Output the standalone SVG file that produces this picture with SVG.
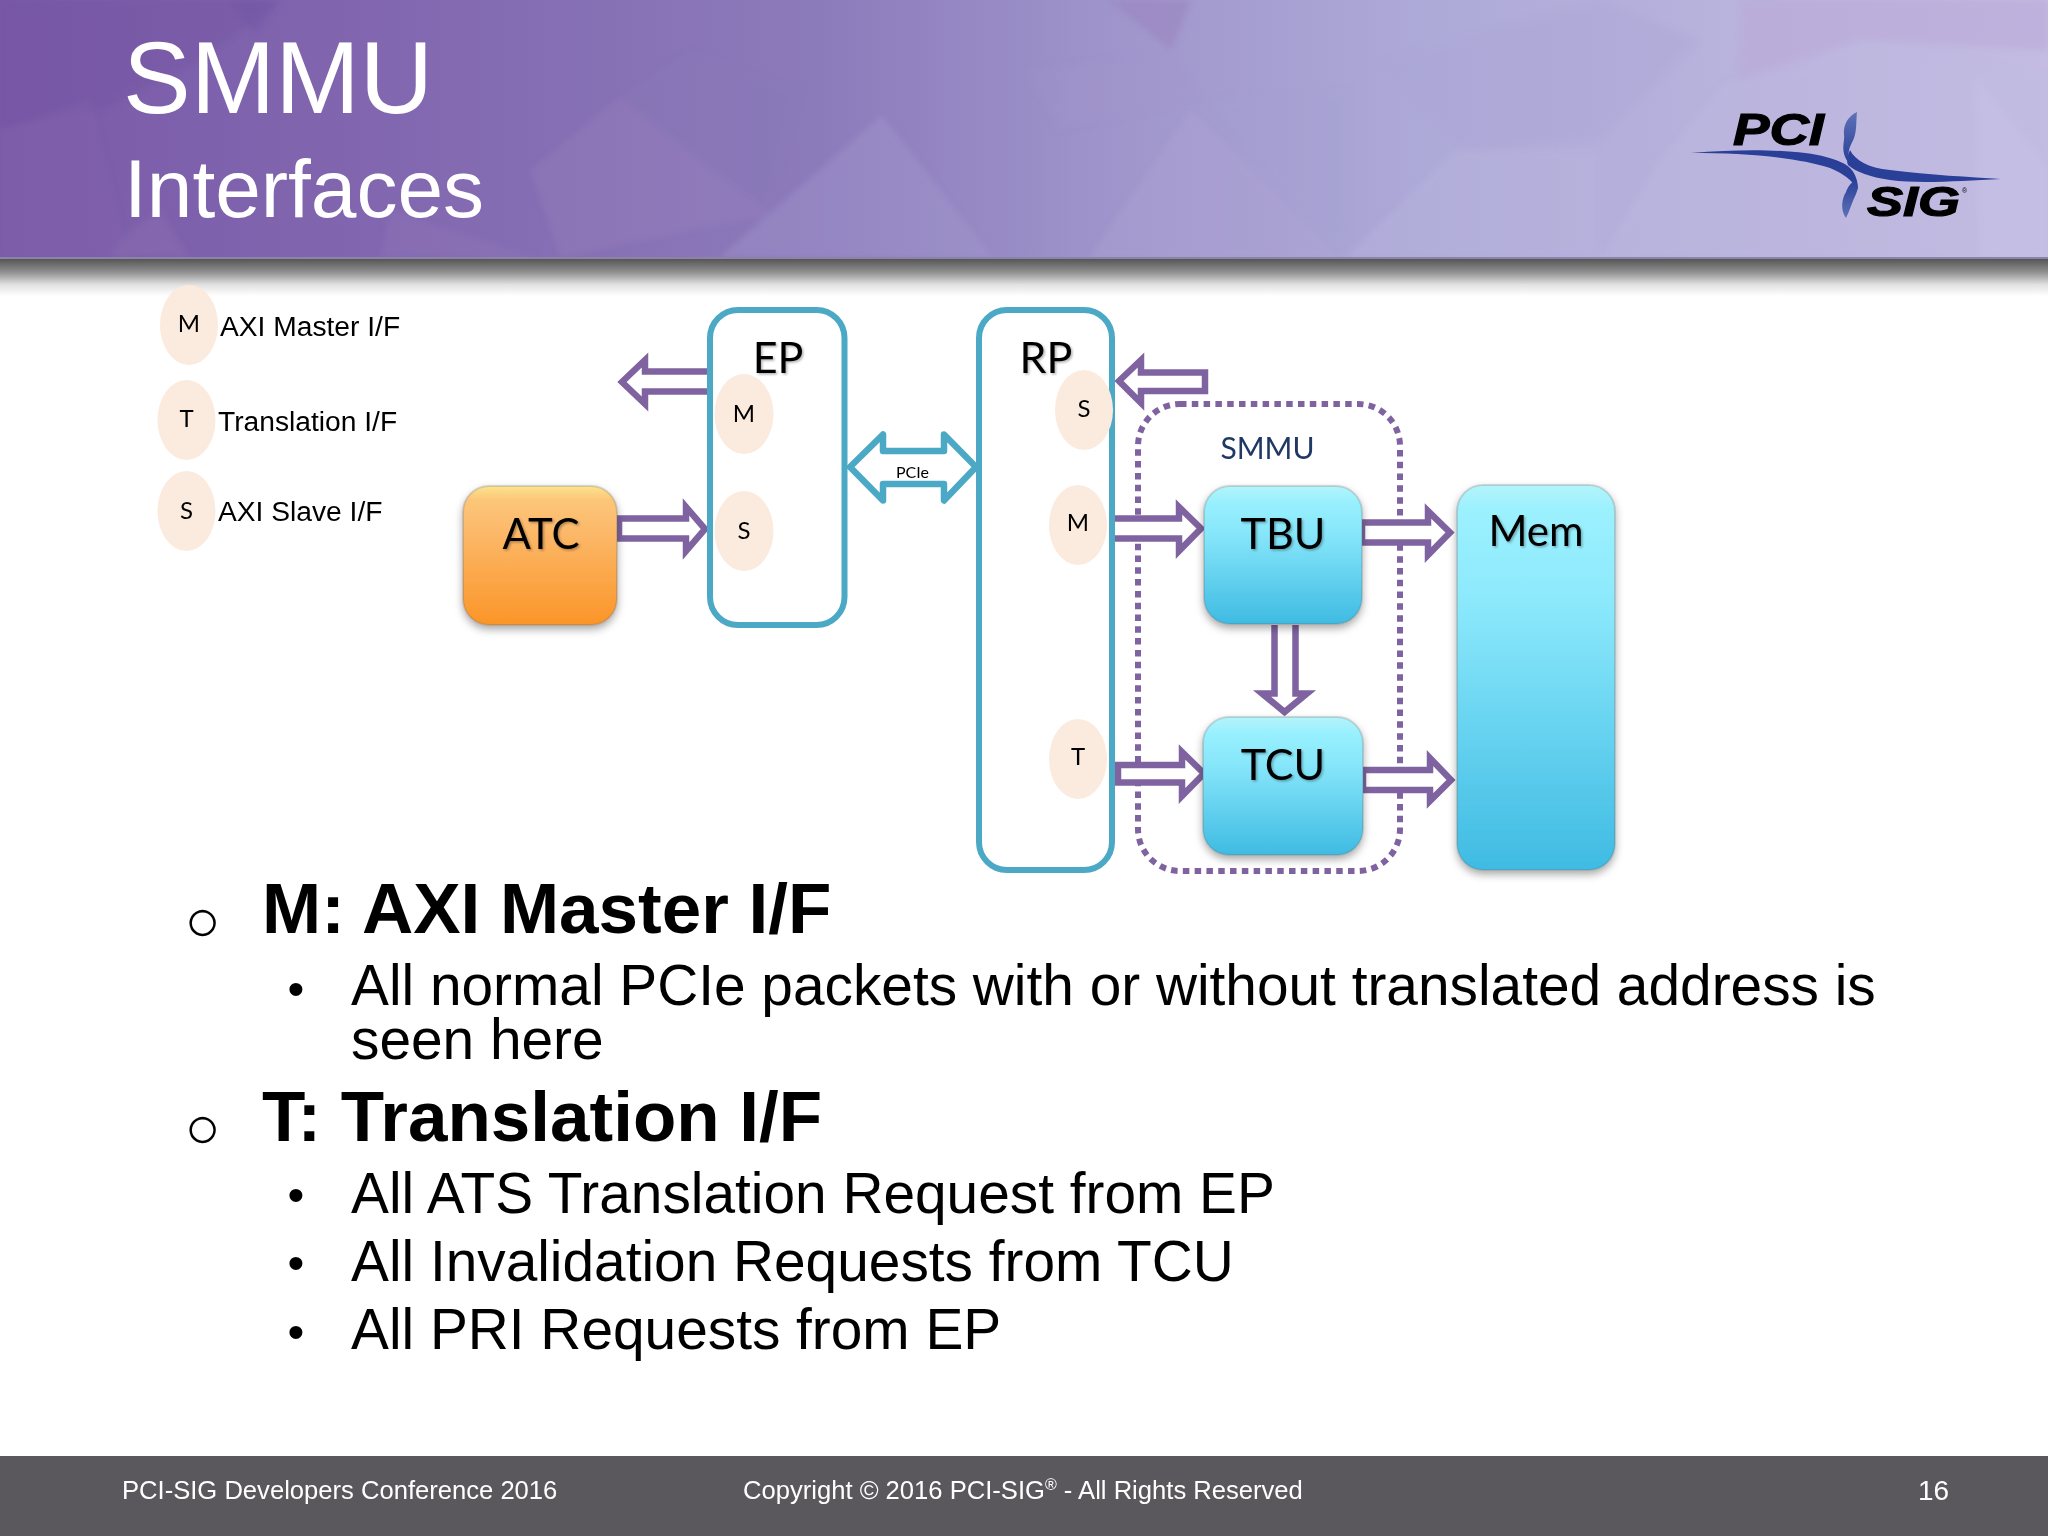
<svg xmlns="http://www.w3.org/2000/svg" width="2048" height="1536" viewBox="0 0 2048 1536">
<defs>
<linearGradient id="bannerG" x1="0" x2="1" y1="0" y2="0"><stop offset="0" stop-color="#7a5aa8"/><stop offset=".2" stop-color="#8268b0"/><stop offset=".4" stop-color="#8c7bbb"/><stop offset=".55" stop-color="#a096cc"/><stop offset=".7" stop-color="#aeaad8"/><stop offset=".88" stop-color="#bbb5de"/><stop offset="1" stop-color="#c4bce2"/></linearGradient>
<linearGradient id="shadeG" x1="0" x2="0" y1="0" y2="1"><stop offset="0" stop-color="#565656"/><stop offset=".35" stop-color="#8f8f8f"/><stop offset=".7" stop-color="#e2e2e2"/><stop offset="1" stop-color="#ffffff"/></linearGradient>
<linearGradient id="orangeG" x1="0" x2="0" y1="0" y2="1"><stop offset="0" stop-color="#fbe48e"/><stop offset=".1" stop-color="#fcc678"/><stop offset=".3" stop-color="#fcba6c"/><stop offset="1" stop-color="#fb9528"/></linearGradient>
<linearGradient id="blueG" x1="0" x2="0" y1="0" y2="1"><stop offset="0" stop-color="#b4f4fb"/><stop offset=".12" stop-color="#98f0fe"/><stop offset=".35" stop-color="#86e6fa"/><stop offset="1" stop-color="#3fbbe3"/></linearGradient>
<linearGradient id="blueTall" x1="0" x2="0" y1="0" y2="1"><stop offset="0" stop-color="#b4f4fb"/><stop offset=".06" stop-color="#9cf1fe"/><stop offset=".3" stop-color="#8ce9fc"/><stop offset="1" stop-color="#3fbbe3"/></linearGradient>
<linearGradient id="bladeG" x1="0" x2="0" y1="0" y2="1"><stop offset="0" stop-color="#5f72b8"/><stop offset="1" stop-color="#2a3f97"/></linearGradient>
<linearGradient id="bladeG2" x1="0" x2="0" y1="1" y2="0"><stop offset="0" stop-color="#5f72b8"/><stop offset="1" stop-color="#2a3f97"/></linearGradient>
<filter id="boxShadow" x="-15%" y="-15%" width="130%" height="130%"><feDropShadow dx="0" dy="4" stdDeviation="4" flood-color="#000" flood-opacity=".35"/></filter>
<filter id="txtShadow" x="-10%" y="-10%" width="125%" height="125%"><feDropShadow dx="1.5" dy="1.5" stdDeviation="1" flood-color="#000" flood-opacity=".3"/></filter>
<filter id="soft" x="-5%" y="-5%" width="110%" height="110%"><feGaussianBlur stdDeviation="3"/></filter>
<clipPath id="bannerClip"><rect width="2048" height="259"/></clipPath>
</defs>
<style>
.ar{font-family:"Liberation Sans",Arial,sans-serif}
.la{font-family:Lato,"Noto Sans",sans-serif;fill:#000;text-anchor:middle}
.big{font-size:43px;filter:url(#txtShadow)}
.port{font-size:24px}
.dot{fill:#fbeade}
.frame{fill:none;stroke:#4ba9c6;stroke-width:6}
.box{stroke:#5a5a5a;stroke-opacity:.22;stroke-width:2;filter:url(#boxShadow)}
.arrow{fill:#fff;stroke:#7f63a1;stroke-width:6.500;stroke-linejoin:miter}
.h1{font-size:71px;font-weight:bold;fill:#000}
.h2{font-size:56.800px;fill:#000}
.b1{font-size:60px;fill:#000}
.b2{font-size:48px;fill:#000}
.foot{font-size:25.600px;fill:#fff}
.leg{font-size:28.200px;fill:#000}
</style>
<rect width="2048" height="1536" fill="#fff"/>
<g id="banner">
<rect width="2048" height="259" fill="url(#bannerG)"/>
<g clip-path="url(#bannerClip)"><g filter="url(#soft)" opacity=".6">
<polygon points="0,0 280,0 200,60 100,110 0,130" fill="#6f4f9f" opacity=".45"/>
<polygon points="230,0 280,0 255,35" fill="#6a4ea0" opacity=".5"/>
<polygon points="0,130 90,100 130,258 0,258" fill="#8a68b2" opacity=".4"/>
<polygon points="130,230 160,210 190,258 110,258" fill="#9a7db8" opacity=".4"/>
<polygon points="620,97 770,215 560,258 530,170" fill="#9f86c2" opacity=".45"/>
<polygon points="690,50 800,90 770,215 620,97" fill="#8c7dbb" opacity=".45"/>
<polygon points="882,115 993,258 719,258" fill="#a79ed2" opacity=".55"/>
<polygon points="390,210 540,258 380,258" fill="#9a80bd" opacity=".4"/>
<polygon points="1109,0 1191,0 1171,50" fill="#9a80bb" opacity=".8"/>
<polygon points="1024,70 1171,50 1200,100 1060,130" fill="#a395cf" opacity=".4"/>
<polygon points="1191,110 1338,258 1089,258" fill="#b2a6d6" opacity=".55"/>
<polygon points="1210,100 1350,90 1350,220 1340,258" fill="#a4a3d2" opacity=".5"/>
<polygon points="1455,150 1600,150 1600,258 1345,258" fill="#bcb8e0" opacity=".6"/>
<polygon points="1380,60 1600,0 1700,40 1600,140 1455,150" fill="#aca6d6" opacity=".5"/>
<polygon points="1743,0 2048,0 2048,50 1860,40 1800,70 1740,85" fill="#bba8d8" opacity=".9"/>
<polygon points="1723,85 1860,40 2048,75 2048,258 1600,258 1660,160" fill="#c0bae2" opacity=".6"/>
<polygon points="1975,75 2048,170 2048,258 1980,258" fill="#c9c3e8" opacity=".7"/>
</g></g>
<rect y="257" width="2048" height="2" fill="#8c84a8"/>
<rect y="259" width="2048" height="37" fill="url(#shadeG)"/>
<text class="ar" x="123" y="113" font-size="101.500" fill="#fff">SMMU</text>
<text class="ar" x="124" y="217" font-size="82" fill="#fff">Interfaces</text>
</g>
<g id="logo">
<path d="M1691,153 C1750,148 1800,150 1826,157 C1838,160 1846,164 1850,168 C1856,174 1858,182 1858,190 C1852,180 1844,174 1830,168 C1795,157 1745,153 1691,153Z" fill="#2a3f97"/>
<path d="M1850,150 C1855,160 1868,168 1890,170 C1930,175 1970,177 2001,179 C1960,181 1920,184 1890,180 C1870,177 1856,172 1848,165 C1846,160 1848,155 1850,150Z" fill="#2a3f97"/>
<path d="M1857,112 C1848,116 1843,125 1844,135 C1845,142 1840,150 1848,162 L1850,160 C1846,150 1852,144 1854,138 C1857,130 1856,120 1857,112Z" fill="url(#bladeG)"/>
<path d="M1846,218 C1840,210 1842,198 1846,192 C1848,186 1852,182 1856,180 C1858,184 1858,190 1856,194 C1852,202 1850,210 1846,218Z" fill="url(#bladeG2)"/>
<text class="ar" x="1733" y="145" font-size="44" font-weight="bold" font-style="italic" fill="#000" stroke="#000" stroke-width="1.200" textLength="91" lengthAdjust="spacingAndGlyphs">PCI</text>
<text class="ar" x="1867" y="216" font-size="42" font-weight="bold" font-style="italic" fill="#000" stroke="#000" stroke-width="1.200" textLength="93" lengthAdjust="spacingAndGlyphs">SIG</text>
<text class="ar" x="1962" y="193" font-size="7" fill="#000">®</text>
</g>
<g id="legend">
<g id="legend-m"><ellipse class="dot" cx="189" cy="325" rx="29" ry="40"/><text class="la port" x="189" y="332">M</text><text class="ar leg" x="220" y="336">AXI Master I/F</text></g>
<g id="legend-t"><ellipse class="dot" cx="186.500" cy="420" rx="29" ry="40"/><text class="la port" x="186.500" y="427">T</text><text class="ar leg" x="218" y="431">Translation I/F</text></g>
<g id="legend-s"><ellipse class="dot" cx="186.500" cy="511" rx="29" ry="40"/><text class="la port" x="186.500" y="519">S</text><text class="ar leg" x="218" y="521">AXI Slave I/F</text></g>
</g>
<g id="smmu"><rect x="1138" y="404" width="262" height="467" rx="42" fill="none" stroke="#7f63a1" stroke-width="6" stroke-dasharray="6.500 5.300"/><text class="la" x="1267.500" y="459" font-size="30" style="fill:#1f3864">SMMU</text></g>
<g id="connectors">
<path class="arrow" d="M711,371.500 H645 V360 L622,382 L645,404 V391.500 H711"/>
<path class="arrow" d="M619,518.500 H686 V507 L705,529 L686,551 V538.500 H619Z"/>
<path d="M850,467 L883,434.500 V451 H944 V434.500 L976,467 L944,500.500 V484 H883 V500.500Z" fill="#fff" stroke="#4ba9c6" stroke-width="6.500" stroke-linejoin="round"/>
<path class="arrow" d="M1205,372.500 H1141 V360 L1119,381 L1141,403 V391 H1205Z"/>
<path class="arrow" d="M1112,518.500 H1179 V507 L1201,528.500 L1179,551 V538.500 H1112"/>
<path class="arrow" d="M1362,522.500 H1428 V511 L1450,532.500 L1428,555 V542.500 H1362Z"/>
<path class="arrow" d="M1274.500,625 V693.500 H1262 L1284.500,712 L1307,693.500 H1295.500 V625"/>
<path class="arrow" d="M1118,765 H1182 V752 L1204,773.500 L1182,796 V782.500 H1118Z"/>
<path class="arrow" d="M1363,770 H1430 V758 L1451,780 L1430,801 V790 H1363Z"/>
</g>
<g id="ep"><rect class="frame" x="710" y="310" width="134.500" height="315" rx="28"/><text class="la big" x="778" y="373">EP</text>
<ellipse class="dot" cx="744" cy="414" rx="29.500" ry="40"/><text class="la port" x="744" y="422">M</text>
<ellipse class="dot" cx="744" cy="531" rx="29.500" ry="40"/><text class="la port" x="744" y="539">S</text></g>
<g id="rp"><rect class="frame" x="979" y="310" width="133" height="560" rx="28"/><text class="la big" x="1046" y="373">RP</text>
<ellipse class="dot" cx="1084" cy="410" rx="29" ry="40"/><text class="la port" x="1084" y="417">S</text>
<ellipse class="dot" cx="1078" cy="525" rx="29" ry="40"/><text class="la port" x="1078" y="531">M</text>
<ellipse class="dot" cx="1078" cy="759" rx="29" ry="40"/><text class="la port" x="1078" y="765">T</text></g>
<g id="pcie-label"><text class="la" x="912.500" y="478" font-size="16">PCIe</text></g>
<g id="atc"><rect class="box" x="463" y="486" width="154" height="139" rx="26" fill="url(#orangeG)"/><text class="la big" x="541" y="549" style="font-size:42px">ATC</text></g>
<g id="tbu"><rect class="box" x="1204" y="486" width="158" height="138" rx="26" fill="url(#blueG)"/><text class="la big" x="1283" y="549">TBU</text></g>
<g id="tcu"><rect class="box" x="1203" y="717" width="160" height="138" rx="26" fill="url(#blueG)"/><text class="la big" x="1283" y="780">TCU</text></g>
<g id="mem"><rect class="box" x="1457" y="485" width="158" height="385" rx="26" fill="url(#blueTall)"/><text class="la big" x="1536" y="546" style="font-size:42px">Mem</text></g>
<g id="body">
<text class="ar b1" x="184.500" y="941">○</text>
<text class="ar h1" x="262" y="933">M: AXI Master I/F</text>
<text class="ar b2" x="287.500" y="1005">•</text>
<text class="ar h2" x="351" y="1005">All normal PCIe packets with or without translated address is</text>
<text class="ar h2" x="351" y="1059">seen here</text>
<text class="ar b1" x="184.500" y="1148">○</text>
<text class="ar h1" x="262" y="1141">T: Translation I/F</text>
<text class="ar b2" x="287.500" y="1211">•</text>
<text class="ar h2" x="351" y="1213">All ATS Translation Request from EP</text>
<text class="ar b2" x="287.500" y="1279">•</text>
<text class="ar h2" x="351" y="1281">All Invalidation Requests from TCU</text>
<text class="ar b2" x="287.500" y="1348">•</text>
<text class="ar h2" x="351" y="1349">All PRI Requests from EP</text>
</g>
<g id="footer">
<rect y="1456" width="2048" height="80" fill="#5a585c"/>
<text class="ar foot" x="122" y="1499">PCI-SIG Developers Conference 2016</text>
<text class="ar foot" x="743" y="1499">Copyright © 2016 PCI-SIG<tspan font-size="16" dy="-9">®</tspan><tspan dy="9"> - All Rights Reserved</tspan></text>
<text class="ar" x="1918" y="1500" font-size="28" fill="#fff">16</text>
</g>
</svg>
